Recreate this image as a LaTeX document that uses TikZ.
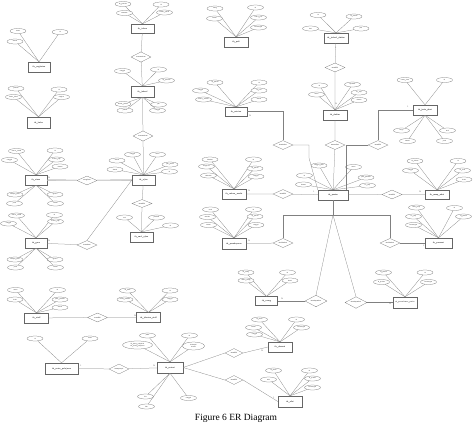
\documentclass[tikz,border=0pt]{standalone}
\usepackage{fontspec}
\setmainfont{Liberation Serif}
\usetikzlibrary{shapes.geometric}
\tikzset{
  ent/.style={draw=black!60, line width=0.3pt, fill=white, minimum width=24pt, minimum height=10pt, inner sep=0pt, font=\fontsize{2.2}{2.5}\selectfont\sffamily},
  attr/.style={ellipse, draw=black!55, line width=0.25pt, fill=white, minimum width=16pt, minimum height=5pt, inner sep=0pt, font=\fontsize{1.6}{2}\selectfont\sffamily},
  rel/.style={diamond, draw=black!55, line width=0.25pt, fill=white, minimum width=20pt, minimum height=9pt, inner sep=0pt, font=\fontsize{1.7}{2}\selectfont\sffamily},
  ln/.style={draw=black!50, line width=0.25pt},
  card/.style={font=\fontsize{2}{2}\selectfont\sffamily, inner sep=0pt, text=black!70}
}
\newcommand\attrib[5]{\node[attr] (#1) at (#2,#3) {#4}; \draw[ln] (#1) -- (#5);}
\begin{document}
\begin{tikzpicture}[x=1pt,y=-1pt]
\useasboundingbox (0,0) rectangle (474,424);
% ---------- top-left isolated entities
\node[ent, minimum width=22pt] (e1) at (39,67) {tb\_angkatan};
\attrib{a11}{18}{31}{nama}{e1.north}
\attrib{a12}{15}{41.5}{status}{e1.north}
\attrib{a13}{60}{32}{id}{e1.north}
\node[ent, minimum width=23pt, minimum height=11pt] (e2) at (38.5,122.5) {tb\_kelas};
\attrib{a21}{16}{88.5}{jurusan}{e2.north}
\attrib{a22}{13.5}{97}{nama\_kelas}{e2.north}
\attrib{a23}{59}{89.5}{id}{e2.north}
\attrib{a24}{61.5}{97}{tingkat}{e2.north}
% ---------- center column
\node[ent, minimum width=23pt, minimum height=9pt] (e3) at (142.5,28.5) {tb\_tahun};
\attrib{a31}{123}{4}{tb\_periode}{e3.north}
\attrib{a32}{124.5}{13}{semester}{e3.north}
\attrib{a33}{161}{4.5}{id}{e3.north}
\attrib{a34}{164.5}{12.5}{tahun\_ajaran}{e3.north}
\node[rel] (r1) at (141,57) {menentukan};
\node[ent, minimum width=23pt, minimum height=11pt] (e4) at (142.5,91.5) {tb\_jadwal};
\attrib{a41}{122.5}{71}{tanggal}{e4.north}
\attrib{a42}{158.5}{69.5}{id}{e4.north}
\attrib{a43}{166.5}{80.5}{id\_periode}{e4.north}
\attrib{a44}{123}{104}{status\_jadwal}{e4.south}
\attrib{a45}{125}{110.5}{jadwal}{e4.south}
\attrib{a46}{158.5}{104.5}{jam}{e4.south}
\attrib{a47}{157.5}{110.5}{tanggal}{e4.south}
\node[rel] (r2) at (143,136) {menentukan};
\draw[ln] (e3) -- (r1) -- (e4);
\node[ent, minimum width=23pt] (e5) at (143.5,180) {tb\_ujian};
\attrib{a51}{132.5}{154.5}{tanggal}{e5.north}
\attrib{a52}{157.5}{154.5}{nama}{e5.north}
\attrib{a53}{170}{164.5}{jam\_mulai}{e5.north}
\attrib{a54}{169.5}{171.5}{id}{e5.north}
\attrib{a55}{117}{160.5}{status}{e5.north}
\attrib{a56}{115}{169.5}{durasi}{e5.north}
\draw[ln] (e4) -- (r2) -- (e5);
\node[rel, minimum height=8pt] (r3) at (142,203.5) {memiliki};
\node[ent, minimum width=23pt] (e6) at (141.5,237) {tb\_soal\_ujian};
\attrib{a61}{124.5}{217.5}{soal}{e6.north}
\attrib{a62}{156.5}{217.5}{jawaban}{e6.north}
\attrib{a63}{170.5}{225.5}{id}{e6.north}
\draw[ln] (e5) -- (r3) -- (e6);
% ---------- left middle
\node[ent, minimum width=22pt] (e7) at (36,180) {tb\_siswa};
\attrib{a71}{16.5}{151}{nomor\_induk}{e7.north}
\attrib{a72}{9.5}{160}{tanggal}{e7.north}
\attrib{a73}{55}{150.5}{id}{e7.north}
\attrib{a74}{56.5}{159.5}{nomor\_telp}{e7.north}
\attrib{a75}{60}{166.5}{alamat}{e7.north}
\attrib{a76}{15}{194.5}{tempat\_lahir}{e7.south}
\attrib{a77}{14.5}{203.5}{jenis}{e7.south}
\attrib{a78}{55}{194.5}{agama}{e7.south}
\attrib{a79}{55.5}{203.5}{status}{e7.south}
\node[rel] (r4) at (87,180.5) {mengikuti};
\draw[ln, double, double distance=0.6pt] (e7) -- (r4) -- (e5);
\node[card] (c7) at (49,177.5) {N};
\node[ent, minimum width=22pt] (e8) at (36,243) {tb\_guru};
\attrib{a81}{16.5}{215.5}{nomor\_induk}{e8.north}
\attrib{a82}{8.5}{223.5}{tanggal}{e8.north}
\attrib{a83}{54.5}{215}{id}{e8.north}
\attrib{a84}{55.5}{221.5}{nomor\_telp}{e8.north}
\attrib{a85}{15}{259.5}{tempat\_lahir}{e8.south}
\attrib{a86}{15.5}{267.5}{jenis}{e8.south}
\attrib{a87}{55}{259.5}{agama}{e8.south}
\attrib{a88}{55.5}{267.5}{status}{e8.south}
\node[rel] (r5) at (87,245) {membuat};
\draw[ln] (e8) -- (r5);
\draw[ln] (r5.north) -- (e5.west);
\node[card] (c8) at (49,240.5) {N};
% ---------- bottom left
\node[ent] (e9) at (36.5,318) {tb\_staff};
\attrib{a91}{15.5}{290}{nama}{e9.north}
\attrib{a92}{15}{299.5}{kode}{e9.north}
\attrib{a93}{57.5}{290}{id}{e9.north}
\attrib{a94}{60}{299.5}{jenis\_jabatan}{e9.north}
\attrib{a95}{60}{307.5}{status}{e9.north}
\node[rel] (r6) at (97.5,317.5) {memiliki};
\node[ent] (e10) at (148.5,317.5) {tb\_jabatan\_staff};
\attrib{a101}{127.5}{290.5}{id\_staff}{e10.north}
\attrib{a102}{125}{299.5}{nama\_jabatan}{e10.north}
\attrib{a103}{170}{290.5}{id}{e10.north}
\attrib{a104}{170}{299.5}{tanggal}{e10.north}
\draw[ln] (e9) -- (r6) -- (e10);
\node[card] (c10) at (135,316) {N};
\node[ent, minimum width=33pt, minimum height=11pt] (e11) at (61.5,368.5) {tb\_mata\_pelajaran};
\attrib{a111}{35}{338.5}{id}{e11.north}
\attrib{a112}{90}{338.5}{nama}{e11.north}
\node[rel] (r7) at (119,369) {mempunyai};
\node[ent, minimum width=26pt, minimum height=11pt] (e12) at (170,367.5) {tb\_materi};
\attrib{a121}{147.5}{335.5}{judul}{e12.north}
\node[attr, minimum width=30pt, minimum height=8pt, align=center] (a122) at (137.5,345) {id\_mata\_pelajaran\\tb\_mata\_pelajaran};
\draw[ln] (a122) -- (e12.north);
\attrib{a123}{189.5}{335.5}{id}{e12.north}
\node[attr, minimum width=22pt, minimum height=8pt, align=center] (a124) at (193.5,346) {deskripsi\\materi};
\draw[ln] (a124) -- (e12.north);
\attrib{a125}{145.5}{396.5}{file}{e12.south}
\attrib{a126}{146.5}{406.5}{link}{e12.south}
\attrib{a127}{188.5}{398}{tanggal}{e12.south}
\draw[ln] (e11) -- (r7) -- (e12);
\node[card] (c11) at (81,366) {1};
\node[card] (c12) at (154,366) {N};
\node[rel, minimum width=18pt] (r8) at (234,353) {memiliki};
\node[rel, minimum width=18pt] (r9) at (234,380) {memiliki};
\draw[ln] (e12.east) -- (r8.west);
\draw[ln] (e12.east) -- (r9.west);
\node[ent] (e13) at (280,347) {tb\_absensi};
\attrib{a131}{259.5}{319.5}{id\_siswa}{e13.north}
\attrib{a132}{253.5}{327.5}{status}{e13.north}
\attrib{a133}{254.5}{334.5}{tanggal}{e13.north}
\attrib{a134}{296.5}{319.5}{id}{e13.north}
\attrib{a135}{301.5}{327.5}{keterangan}{e13.north}
\node[ent, minimum height=11pt] (e14) at (290,401.5) {tb\_nilai};
\attrib{a141}{273.5}{370.5}{id\_siswa}{e14.north}
\attrib{a142}{268.5}{379.5}{nilai}{e14.north}
\attrib{a143}{309.5}{370.5}{id}{e14.north}
\attrib{a144}{312.5}{378.5}{id\_materi}{e14.north}
\attrib{a145}{312.5}{387.5}{keterangan}{e14.north}
\draw[ln] (r8.east) -- (e13.west);
\draw[ln] (r9.east) -- (e14.west);
\node[card] (c13) at (262,351) {N};
\node[card] (c14) at (274,398) {1};
% ---------- right cluster
\node[ent, minimum width=24pt] (e17) at (236,42) {tb\_poli};
\attrib{a171}{255.5}{7.5}{id}{e17.north}
\attrib{a172}{258.5}{17.5}{nama\_poli}{e17.north}
\attrib{a173}{258.5}{27.5}{keterangan}{e17.north}
\attrib{a174}{215}{8.5}{ruang}{e17.north}
\attrib{a175}{214.5}{18.5}{status}{e17.north}
\node[ent] (e18) at (336,38) {tb\_jadwal\_dokter};
\attrib{a181}{318}{15}{id}{e18.north}
\attrib{a182}{310.5}{28.5}{hari}{e18.north}
\attrib{a183}{354}{16.5}{id\_dokter}{e18.north}
\attrib{a184}{361}{28.5}{jam}{e18.north}
\node[rel] (r12) at (335,67.5) {memiliki};
\node[ent] (e19) at (335,115) {tb\_dokter};
\attrib{a191}{319.5}{85.5}{id}{e19.north}
\attrib{a192}{316.5}{94.5}{nama}{e19.north}
\attrib{a193}{352.5}{84.5}{spesialis}{e19.north}
\attrib{a194}{359}{92.5}{no\_telp}{e19.north}
\attrib{a195}{359}{100}{alamat}{e19.north}
\draw[ln] (e18) -- (r12) -- (e19);
\node[card] (c18) at (336,48) {1};
\node[card] (c19) at (336,104) {N};
\node[ent, minimum width=22pt, minimum height=9pt] (e20) at (236,111.5) {tb\_antrian};
\attrib{a201}{215}{82.5}{id\_pasien}{e20.north}
\attrib{a202}{200.5}{90.5}{tanggal}{e20.north}
\attrib{a203}{203.5}{99.5}{nomor\_antrian}{e20.north}
\attrib{a204}{259}{82.5}{id}{e20.north}
\attrib{a205}{259}{90.5}{id\_poli}{e20.north}
\attrib{a206}{259}{99.5}{status}{e20.north}
\node[card] (c20) at (250,116) {N};
\node[rel] (r13) at (335,145) {memeriksa};
\node[rel] (r14) at (283,145) {mendaftar};
\node[rel] (r15) at (378,145) {memiliki};
\node[ent, minimum width=30pt] (e21) at (333,195) {tb\_pasien};
\attrib{a211}{319}{165.5}{tanggal\_lahir}{e21.north}
\attrib{a212}{304.5}{175.5}{id}{e21.north}
\attrib{a213}{303.5}{184.5}{alamat}{e21.north}
\attrib{a214}{353.5}{167}{nama}{e21.north}
\attrib{a215}{366}{177.5}{jenis\_kelamin}{e21.north}
\attrib{a216}{367.5}{185.5}{no\_telp}{e21.north}
\draw[ln] (e19) -- (r13) -- (e21);
\draw[ln] (e20.east) -| (r14.north);
\coordinate (k1) at (309,145);
\coordinate (k2) at (309,158);
\draw[ln] (r14.east) -- (k1) -- (k2) -- (e21.north west);
\node[ent] (e22) at (425,110) {tb\_jenis\_obat};
\attrib{a221}{405}{80}{nama\_obat}{e22.north}
\attrib{a222}{444.5}{80}{id}{e22.north}
\attrib{a223}{401.5}{130.5}{harga}{e22.south}
\attrib{a224}{447.5}{130.5}{stok}{e22.south}
\attrib{a225}{407.5}{141}{satuan}{e22.south}
\attrib{a226}{444.5}{141}{jenis}{e22.south}
\draw[ln] (e22.west) -| (r15.north);
\coordinate (k3) at (346,145);
\coordinate (k4) at (346,190);
\draw[ln] (r15.west) -- (k3) -- (k4);
\node[card] (c22) at (408,107) {1};
\node[ent] (e23) at (234,194) {tb\_rekam\_medis};
\attrib{a231}{210}{159.5}{keluhan}{e23.north}
\attrib{a232}{206.5}{166.5}{diagnosa}{e23.north}
\attrib{a233}{208.5}{175.5}{tindakan}{e23.north}
\attrib{a234}{253.5}{159.5}{id}{e23.north}
\attrib{a235}{255}{168.5}{id\_pasien}{e23.north}
\attrib{a236}{256}{176.5}{tanggal}{e23.north}
\node[rel] (r16) at (283,194) {memiliki};
\draw[ln] (e23) -- (r16) -- (e21);
\node[card] (c23) at (249,191) {N};
\node[card] (c21) at (314,192) {1};
\node[ent, minimum height=11pt] (e24) at (234,243.5) {tb\_pembayaran};
\attrib{a241}{210.5}{209.5}{total}{e24.north}
\attrib{a242}{207.5}{217}{metode}{e24.north}
\attrib{a243}{208.5}{225}{status}{e24.north}
\attrib{a244}{253.5}{209.5}{id}{e24.north}
\attrib{a245}{255}{216.5}{id\_pasien}{e24.north}
\attrib{a246}{256}{225}{tanggal}{e24.north}
\node[rel] (r17) at (283,243) {melakukan};
\draw[ln] (e24) -- (r17);
\node[card] (c24) at (249,241) {N};
\coordinate (j) at (333,215);
\coordinate (jl) at (283,215);
\coordinate (jr) at (390,215);
\node[rel] (r18) at (390,243) {melakukan};
\draw[ln] (e21.south) -- (j);
\draw[ln] (r17.north) -- (jl) -- (jr) -- (r18.north);
\node[ent, minimum width=27pt] (e25) at (438.5,243) {tb\_perawat};
\attrib{a251}{416.5}{207.5}{shift\_kerja}{e25.north}
\attrib{a252}{413.5}{216.5}{no\_telp}{e25.north}
\attrib{a253}{413.5}{225}{keterangan}{e25.north}
\attrib{a254}{454.5}{208}{id}{e25.north}
\attrib{a255}{463.5}{216.5}{id\_pasien}{e25.north}
\draw[ln] (r18) -- (e25);
\node[card] (c25) at (424,245.5) {1};
\node[rel] (r19) at (392,194.5) {memiliki};
\node[ent, minimum height=9pt] (e26) at (437,194.5) {tb\_resep\_obat};
\attrib{a261}{415}{161}{id\_dokter}{e26.north}
\attrib{a262}{410.5}{170.5}{tanggal}{e26.north}
\attrib{a263}{458}{161}{id}{e26.north}
\attrib{a264}{462.5}{170.5}{id\_obat}{e26.north}
\attrib{a265}{464}{179.5}{dosis}{e26.north}
\draw[ln] (e21) -- (r19) -- (e26);
\node[card] (c26) at (420,192) {N};
% ---------- lower middle
\node[ent, minimum width=22pt, minimum height=9pt] (e15) at (266.5,301) {tb\_ruang};
\attrib{a151}{246}{272.5}{id\_ruang}{e15.north}
\attrib{a152}{246}{280.5}{nama\_ruang}{e15.north}
\attrib{a153}{287.5}{272.5}{id}{e15.north}
\attrib{a154}{290}{280.5}{lantai}{e15.north}
\node[rel, minimum width=22pt] (r10) at (316,301) {mendapatkan};
\node[rel, minimum width=22pt, minimum height=10pt] (r11) at (356,302.5) {mendapatkan};
\draw[ln] (e15) -- (r10);
\draw[ln] (j) -- (r10.north);
\draw[ln] (j) -- (r11.north);
\node[card] (c15) at (282,299) {N};
\node[ent, minimum height=11pt, font=\fontsize{1.8}{2}\selectfont\sffamily] (e16) at (405,302.5) {tb\_pemeriksaan\_pasien};
\attrib{a161}{383.5}{272.5}{id\_pasien}{e16.north}
\attrib{a162}{381.5}{282}{id\_dokter}{e16.north}
\attrib{a163}{425}{272.5}{id}{e16.north}
\attrib{a164}{428.5}{282}{keterangan}{e16.north}
\draw[ln] (r11) -- (e16);
\node[card] (c16) at (390,304) {N};
% ---------- caption
\node[font=\fontsize{9.5}{11}\selectfont, inner sep=0pt] (cap) at (236,418) {Figure 6 ER Diagram};
\end{tikzpicture}
\end{document}
